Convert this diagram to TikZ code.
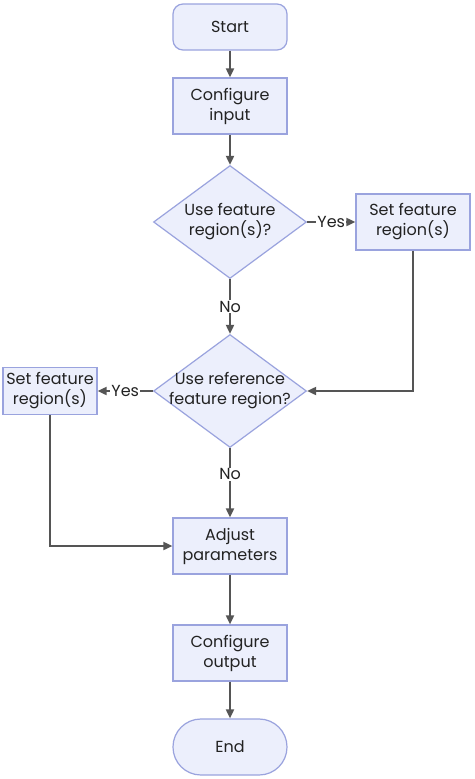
\documentclass[tikz,border=0pt]{standalone}
\usepackage{fontspec}
\setmainfont{Poppins}
\usetikzlibrary{shapes.geometric,arrows.meta}
\definecolor{boxfill}{HTML}{ECEFFC}
\definecolor{boxline}{HTML}{9AA3DE}
\definecolor{arrowc}{HTML}{555555}
\definecolor{txt}{HTML}{222222}
\begin{document}
\begin{tikzpicture}[x=1pt,y=-1pt,
  base/.style={draw=boxline,fill=boxfill,line width=1.2pt,text=txt,align=center,
    font=\fontsize{16}{20}\selectfont,inner sep=0pt},
  procbox/.style={base,minimum width=114pt,minimum height=56pt},
  termbox/.style={base,rounded corners=10pt,minimum width=114pt,minimum height=46pt},
  endbox/.style={base,rounded corners=27.9pt,minimum width=114pt,minimum height=56pt},
  decbox/.style={base,diamond,minimum width=153pt,minimum height=113pt,aspect=1.35},
  dectext/.style={text=txt,align=center,font=\fontsize{16}{20}\selectfont},
  conn/.style={draw=arrowc,line width=1.8pt,-{Triangle[length=9pt,width=8pt]}},
  lbl/.style={fill=white,text=txt,font=\fontsize{16}{18}\selectfont,inner sep=1pt}]
\useasboundingbox (0,0) rectangle (474,779);
\fill[white] (0,0) rectangle (474,779);
\node[termbox] (start) at (230,27) {Start};
\node[procbox] (cin) at (230,106) {Configure\\input};
\node[decbox] (d1) at (230,222) {};
\node[dectext] (d1t) at (230,222) {Use feature\\region(s)?};
\node[procbox] (sr) at (413,222) {Set feature\\region(s)};
\node[decbox] (d2) at (230,391) {};
\node[dectext] (d2t) at (230,391) {Use reference\\feature region?};
\node[base,minimum width=94pt,minimum height=47pt] (sl) at (50,391) {Set feature\\region(s)};
\node[procbox] (adj) at (230,546) {Adjust\\parameters};
\node[procbox] (cout) at (230,653) {Configure\\output};
\node[endbox] (end) at (230,747) {End};

\draw[conn] (start) -- (cin);
\draw[conn] (cin) -- (d1);
\draw[conn] (d1.east) -- node[lbl] (y1) {Yes} (sr.west);
\draw[conn] (d1.south) -- node[lbl,pos=0.5] (n1) {No} (d2.north);
\draw[conn] (sr.south) |- (d2.east);
\draw[conn] (d2.west) -- node[lbl] (y2) {Yes} (sl.east);
\draw[conn] (d2.south) -- node[lbl,pos=0.38] (n2) {No} (adj.north);
\draw[conn] (sl.south) |- (adj.west);
\draw[conn] (adj) -- (cout);
\draw[conn] (cout) -- (end);
\end{tikzpicture}
\end{document}
